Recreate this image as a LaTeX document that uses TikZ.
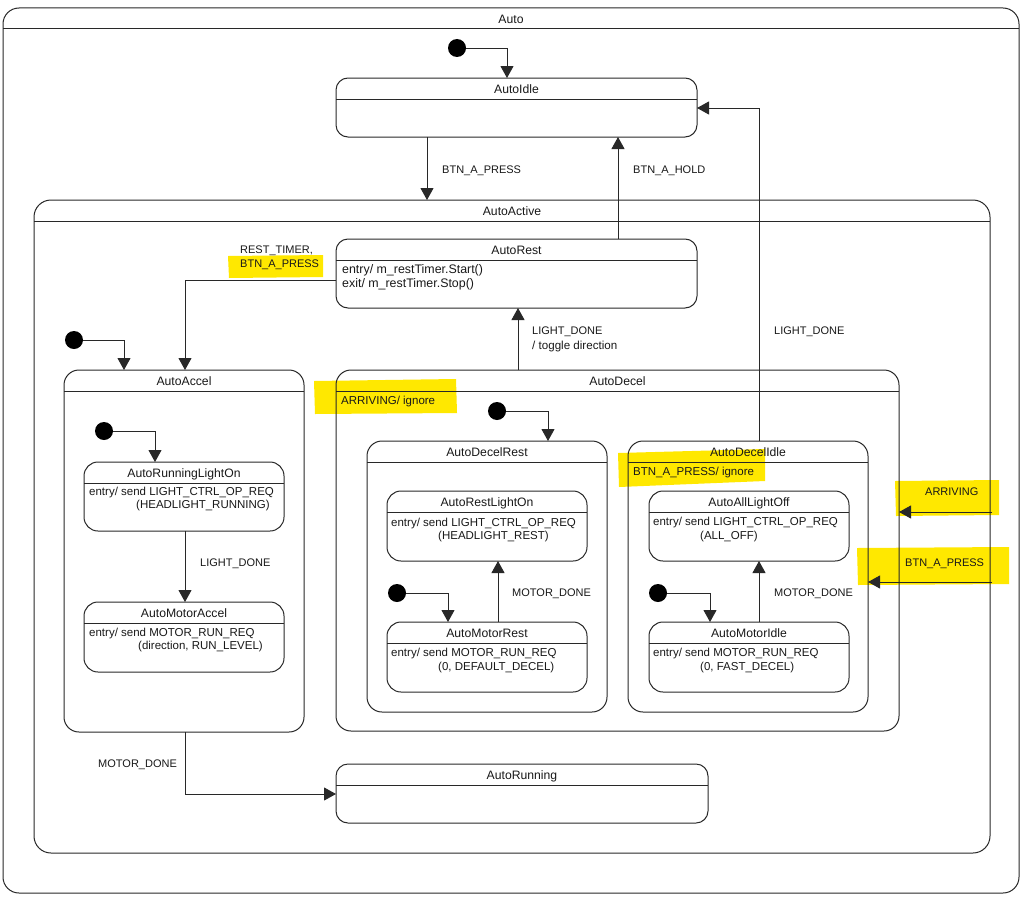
\documentclass[tikz,border=0pt]{standalone}
\usepackage{fontspec}
\setmainfont{Liberation Sans}
\usetikzlibrary{arrows.meta}
\definecolor{hl}{RGB}{255,232,0}
\definecolor{ln}{RGB}{40,40,40}
\definecolor{tx}{RGB}{25,25,25}
\tikzset{
  stbox/.style={draw=ln, line width=1pt, inner sep=0pt, outer sep=0pt, anchor=north west},
  sline/.style={draw=ln, line width=1pt},
  stitle/.style={inner sep=0pt, text=tx, font=\fontsize{12.2}{14}\selectfont, text height=8.7pt, text depth=0pt},
  body/.style={inner sep=0pt, anchor=west, text=tx, font=\fontsize{11.5}{13.5}\selectfont, text height=8.2pt, text depth=0pt},
  bodyw/.style={body, font=\fontsize{12.4}{14}\selectfont, text height=8.4pt},
  lbl/.style={inner sep=0pt, anchor=west, text=tx, font=\fontsize{11}{13}\selectfont, text height=7.9pt, text depth=0pt},
  lblw/.style={lbl, font=\fontsize{11.6}{13}\selectfont, text height=8.1pt},
  init/.style={circle, fill=black, minimum size=18pt, inner sep=0pt},
  arr/.style={draw=ln, line width=0.9pt, -{Triangle[length=12pt,width=13pt]}},
  hlite/.style={fill=hl, draw=none}
}
\newcommand{\mkstate}[7]{%
  \node[stbox, rounded corners=#7pt, minimum width=#4pt, minimum height=#5pt] (#1) at (#2,#3) {};
  \draw[sline] ([yshift=-21pt]#1.north west) -- ([yshift=-21pt]#1.north east);
  \node[stitle] (#1t) at ([yshift=-10.8pt]#1.north) {#6};}
\begin{document}
\begin{tikzpicture}[x=1pt,y=-1pt]
\useasboundingbox[fill=white] (0,0) rectangle (1024,899);
% highlights
\path[hlite] (228,256) -- (323,255) -- (323,277) -- (229,278) -- cycle;
\path[hlite] (314,381) -- (456,379) -- (457,413) -- (315,414) -- cycle;
\path[hlite] (618,453) -- (765,449) -- (765,481) -- (619,487) -- cycle;
\path[hlite] (895,481) -- (999,480) -- (999,515) -- (896,516) -- cycle;
\path[hlite] (857,548) -- (1009,547) -- (1009,584) -- (858,585) -- cycle;
% states
\mkstate{auto}{3}{8}{1016}{885}{Auto}{16}
\mkstate{act}{34}{200}{956}{653}{AutoActive}{17}
\mkstate{idle}{336}{78}{361}{59}{AutoIdle}{12}
\mkstate{rest}{336}{239}{361}{69}{AutoRest}{12}
\mkstate{accel}{64}{370}{240}{362}{AutoAccel}{15}
\mkstate{decel}{336}{370}{563}{361}{AutoDecel}{15}
\mkstate{run}{336}{764}{372}{59}{AutoRunning}{12}
\mkstate{drest}{367}{441}{240}{271}{AutoDecelRest}{15}
\mkstate{didle}{628}{441}{240}{271}{AutoDecelIdle}{15}
\mkstate{rlo}{84}{462}{200}{69}{AutoRunningLightOn}{14}
\mkstate{mac}{84}{602}{200}{70}{AutoMotorAccel}{14}
\mkstate{rlon}{387}{491}{200}{70}{AutoRestLightOn}{14}
\mkstate{mrest}{387}{622}{200}{70}{AutoMotorRest}{14}
\mkstate{alo}{649}{491}{200}{70}{AutoAllLightOff}{14}
\mkstate{midle}{649}{622}{200}{70}{AutoMotorIdle}{14}
% state bodies
\node[bodyw] (restb1) at (342,269) {entry/ m\_restTimer.Start()};
\node[bodyw] (restb2) at (342,283) {exit/ m\_restTimer.Stop()};
\node[body] (decelb) at (341,400) {ARRIVING/ ignore};
\node[body] (didleb) at (633,471) {BTN\_A\_PRESS/ ignore};
\node[body] (rlob1) at (89,491) {entry/ send LIGHT\_CTRL\_OP\_REQ};
\node[body] (rlob2) at (136,504) {(HEADLIGHT\_RUNNING)};
\node[body] (macb1) at (89,632) {entry/ send MOTOR\_RUN\_REQ};
\node[body] (macb2) at (138,645) {(direction, RUN\_LEVEL)};
\node[body] (rlonb1) at (391,522) {entry/ send LIGHT\_CTRL\_OP\_REQ};
\node[body] (rlonb2) at (438,535) {(HEADLIGHT\_REST)};
\node[body] (mrestb1) at (391,652) {entry/ send MOTOR\_RUN\_REQ};
\node[body] (mrestb2) at (438,666) {(0, DEFAULT\_DECEL)};
\node[body] (alob1) at (653,521) {entry/ send LIGHT\_CTRL\_OP\_REQ};
\node[body] (alob2) at (700,535) {(ALL\_OFF)};
\node[body] (midleb1) at (653,652) {entry/ send MOTOR\_RUN\_REQ};
\node[body] (midleb2) at (700,666) {(0, FAST\_DECEL)};
% initial pseudo-states
\node[init] (d0) at (457,48) {};
\node[init] (d1) at (74,340) {};
\node[init] (d2) at (104,431) {};
\node[init] (d3) at (497,411) {};
\node[init] (d4) at (397,593) {};
\node[init] (d5) at (658,593) {};
% transitions
\draw[arr] (d0.east) -| (idle.north -| 507,0);
\draw[arr] (d1.east) -| (accel.north -| 124,0);
\draw[arr] (d2.east) -| (rlo.north -| 155,0);
\draw[arr] (d3.east) -| (drest.north -| 548,0);
\draw[arr] (d4.east) -| (mrest.north -| 448,0);
\draw[arr] (d5.east) -| (midle.north -| 710,0);
\draw[arr] (idle.south -| 427,0) -- (act.north -| 427,0);
\draw[arr] (rest.north -| 618,0) -- (idle.south -| 618,0);
\draw[arr] (didle.north -| 759,0) |- (idle.east |- 0,108);
\draw[arr] (rest.west |- 0,280) -| (accel.north -| 185,0);
\draw[arr] (rlo.south -| 185,0) -- (mac.north -| 185,0);
\draw[arr] (accel.south -| 185,0) |- (run.west |- 0,794);
\draw[arr] (decel.north -| 518,0) -- (rest.south -| 518,0);
\draw[arr] (mrest.north -| 498,0) -- (rlon.south -| 498,0);
\draw[arr] (midle.north -| 759,0) -- (alo.south -| 759,0);
\draw[arr] ([xshift=2pt]act.east |- 0,512) -- (decel.east |- 0,512);
\draw[arr] ([xshift=2pt]act.east |- 0,582) -- (didle.east |- 0,582);
% transition labels
\node[lbl] (l1) at (442,170) {BTN\_A\_PRESS};
\node[lbl] (l2) at (633,170) {BTN\_A\_HOLD};
\node[lbl] (l3a) at (240,250) {REST\_TIMER,};
\node[lbl] (l3b) at (240,264) {BTN\_A\_PRESS};
\node[lbl] (l4a) at (532,331) {LIGHT\_DONE};
\node[lblw] (l4b) at (532,345) {/ toggle direction};
\node[lbl] (l5) at (774,331) {LIGHT\_DONE};
\node[lbl] (l6) at (200,563) {LIGHT\_DONE};
\node[lbl] (l7) at (98,764) {MOTOR\_DONE};
\node[lbl] (l8) at (512,593) {MOTOR\_DONE};
\node[lbl] (l9) at (774,593) {MOTOR\_DONE};
\node[lbl] (l10) at (925,492) {ARRIVING};
\node[lbl] (l11) at (905,563) {BTN\_A\_PRESS};
\end{tikzpicture}
\end{document}
